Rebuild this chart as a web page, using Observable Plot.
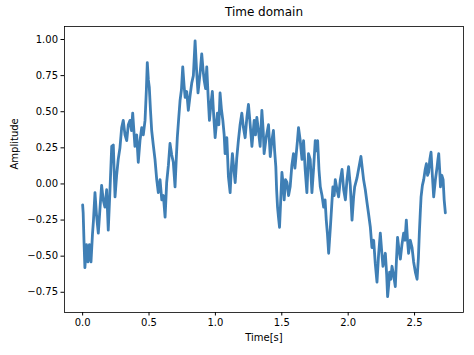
<!DOCTYPE html>
<html>
<head>
<meta charset="utf-8">
<script src="https://cdn.jsdelivr.net/npm/d3@7"></script>
<script src="https://cdn.jsdelivr.net/npm/@observablehq/plot@0.6"></script>
<style>
  html, body { margin: 0; padding: 0; background: #fff; }
</style>
</head>
<body>
<div id="chart"></div>
<script>
const times = [0.000,0.004,0.010,0.017,0.029,0.040,0.051,0.063,0.074,0.081,0.093,0.104,0.118,0.130,0.143,0.155,0.168,0.181,0.193,0.206,0.219,0.231,0.244,0.256,0.268,0.281,0.294,0.306,0.319,0.332,0.344,0.357,0.368,0.377,0.394,0.407,0.419,0.432,0.445,0.457,0.470,0.480,0.487,0.495,0.502,0.511,0.520,0.532,0.545,0.558,0.570,0.583,0.596,0.608,0.621,0.633,0.646,0.658,0.671,0.683,0.696,0.705,0.713,0.724,0.734,0.744,0.754,0.764,0.772,0.784,0.796,0.809,0.822,0.834,0.847,0.858,0.869,0.885,0.897,0.907,0.915,0.926,0.935,0.945,0.955,0.966,0.977,0.988,0.998,1.015,1.026,1.035,1.045,1.056,1.066,1.073,1.086,1.098,1.111,1.120,1.128,1.139,1.149,1.161,1.173,1.186,1.199,1.211,1.224,1.237,1.249,1.262,1.275,1.292,1.302,1.312,1.324,1.337,1.350,1.360,1.367,1.382,1.400,1.413,1.425,1.437,1.446,1.455,1.461,1.468,1.475,1.483,1.492,1.501,1.511,1.518,1.528,1.539,1.551,1.563,1.576,1.588,1.599,1.609,1.618,1.626,1.639,1.652,1.664,1.676,1.689,1.701,1.714,1.727,1.739,1.752,1.762,1.770,1.780,1.790,1.803,1.815,1.826,1.835,1.844,1.853,1.866,1.876,1.885,1.895,1.903,1.916,1.928,1.941,1.954,1.966,1.979,1.991,2.003,2.016,2.029,2.041,2.049,2.066,2.078,2.096,2.106,2.116,2.129,2.142,2.154,2.167,2.179,2.192,2.204,2.217,2.229,2.242,2.252,2.262,2.272,2.280,2.290,2.297,2.305,2.312,2.321,2.330,2.342,2.355,2.364,2.372,2.383,2.393,2.405,2.418,2.428,2.438,2.447,2.455,2.468,2.481,2.493,2.506,2.519,2.529,2.536,2.544,2.549,2.559,2.569,2.580,2.589,2.598,2.606,2.615,2.624,2.634,2.644,2.657,2.670,2.676,2.682,2.689,2.695,2.705,2.715,2.723,2.732];
const amplitude = [-0.145,-0.20,-0.39,-0.58,-0.42,-0.54,-0.42,-0.54,-0.35,-0.26,-0.06,-0.21,-0.34,-0.18,-0.01,-0.11,-0.16,-0.04,-0.32,-0.04,0.26,0.27,-0.09,0.06,0.17,0.25,0.39,0.44,0.34,0.30,0.41,0.44,0.37,0.49,0.26,0.34,0.15,0.30,0.39,0.34,0.44,0.65,0.84,0.72,0.67,0.51,0.37,0.27,0.17,0.03,-0.06,0.03,-0.11,-0.08,-0.23,0.01,0.13,0.28,0.20,0.15,-0.02,0.17,0.32,0.46,0.58,0.65,0.81,0.68,0.60,0.64,0.51,0.61,0.70,0.75,0.99,0.79,0.63,0.77,0.90,0.79,0.72,0.66,0.81,0.61,0.44,0.55,0.64,0.46,0.32,0.49,0.41,0.63,0.52,0.44,0.34,0.21,0.32,0.05,-0.06,0.11,0.21,0.10,0.01,0.18,0.30,0.41,0.49,0.39,0.32,0.46,0.55,0.41,0.26,0.44,0.34,0.46,0.37,0.26,0.51,0.37,0.21,0.32,0.41,0.19,0.30,0.37,0.23,0.12,-0.04,-0.16,-0.23,-0.30,-0.11,0.08,-0.01,-0.11,0.03,0.01,-0.08,-0.02,0.13,0.21,0.11,0.21,0.30,0.39,0.30,0.17,0.30,0.10,-0.06,0.21,0.17,-0.06,0.10,0.30,0.23,0.30,0.10,-0.02,-0.08,-0.16,-0.11,-0.25,-0.35,-0.48,-0.30,-0.15,-0.02,-0.08,0.03,-0.04,-0.09,0.03,0.10,-0.04,-0.11,0.03,0.12,-0.01,-0.25,-0.09,-0.02,0.04,0.10,0.19,0.11,0.03,-0.04,-0.13,-0.21,-0.30,-0.44,-0.39,-0.55,-0.68,-0.49,-0.34,-0.46,-0.57,-0.52,-0.48,-0.63,-0.78,-0.70,-0.61,-0.66,-0.57,-0.63,-0.71,-0.52,-0.37,-0.46,-0.52,-0.42,-0.34,-0.39,-0.25,-0.39,-0.48,-0.39,-0.44,-0.54,-0.61,-0.66,-0.51,-0.34,-0.18,-0.09,-0.01,0.03,0.10,0.14,0.06,0.08,0.17,0.22,0.06,-0.09,0.03,0.12,0.17,0.21,0.10,-0.02,0.06,0.03,-0.11,-0.20];
const xTicks = [0, 0.5, 1.0, 1.5, 2.0, 2.5];
const yTicks = [-0.75, -0.5, -0.25, 0, 0.25, 0.5, 0.75, 1.0];
const titleText = "Time domain";
const xLabel = "Time[s]";
const yLabel = "Amplitude";

const data = times.map((t, i) => ({t, a: amplitude[i]}));
const fmtY = d => d.toFixed(2).replace("-", "\u2212");
const fmtX = d => d.toFixed(1).replace("-", "\u2212");

const chart = Plot.plot({
  width: 474,
  height: 355,
  marginLeft: 64,
  marginRight: 11,
  marginTop: 26,
  marginBottom: 43,
  style: {fontFamily: "'DejaVu Sans', sans-serif", fontSize: "10px", color: "#000", background: "#fff"},
  x: {domain: [-0.1366, 2.8686]},
  y: {domain: [-0.89, 1.09]},
  marks: [
    Plot.line(data, {x: "t", y: "a", stroke: "#3f7fb5", strokeWidth: 2.8, strokeLinejoin: "round"}),
    Plot.frame({stroke: "#000", strokeWidth: 0.8}),
    Plot.axisX(xTicks, {ticks: xTicks, tickFormat: fmtX, tickSize: 3.5, tickPadding: 3, label: null, fontSize: 10}),
    Plot.axisY(yTicks, {ticks: yTicks, tickFormat: fmtY, tickSize: 3.5, tickPadding: 3, label: null, fontSize: 10}),
    Plot.text([titleText], {frameAnchor: "top", dy: -11, lineAnchor: "bottom", fontSize: 12, fill: "#000"}),
    Plot.text([xLabel], {frameAnchor: "bottom", dy: 28, fontSize: 10, fill: "#000"}),
    Plot.text([yLabel], {frameAnchor: "left", dx: -50, rotate: -90, fontSize: 10, fill: "#000"})
  ]
});
document.getElementById("chart").appendChild(chart);
</script>
</body>
</html>
